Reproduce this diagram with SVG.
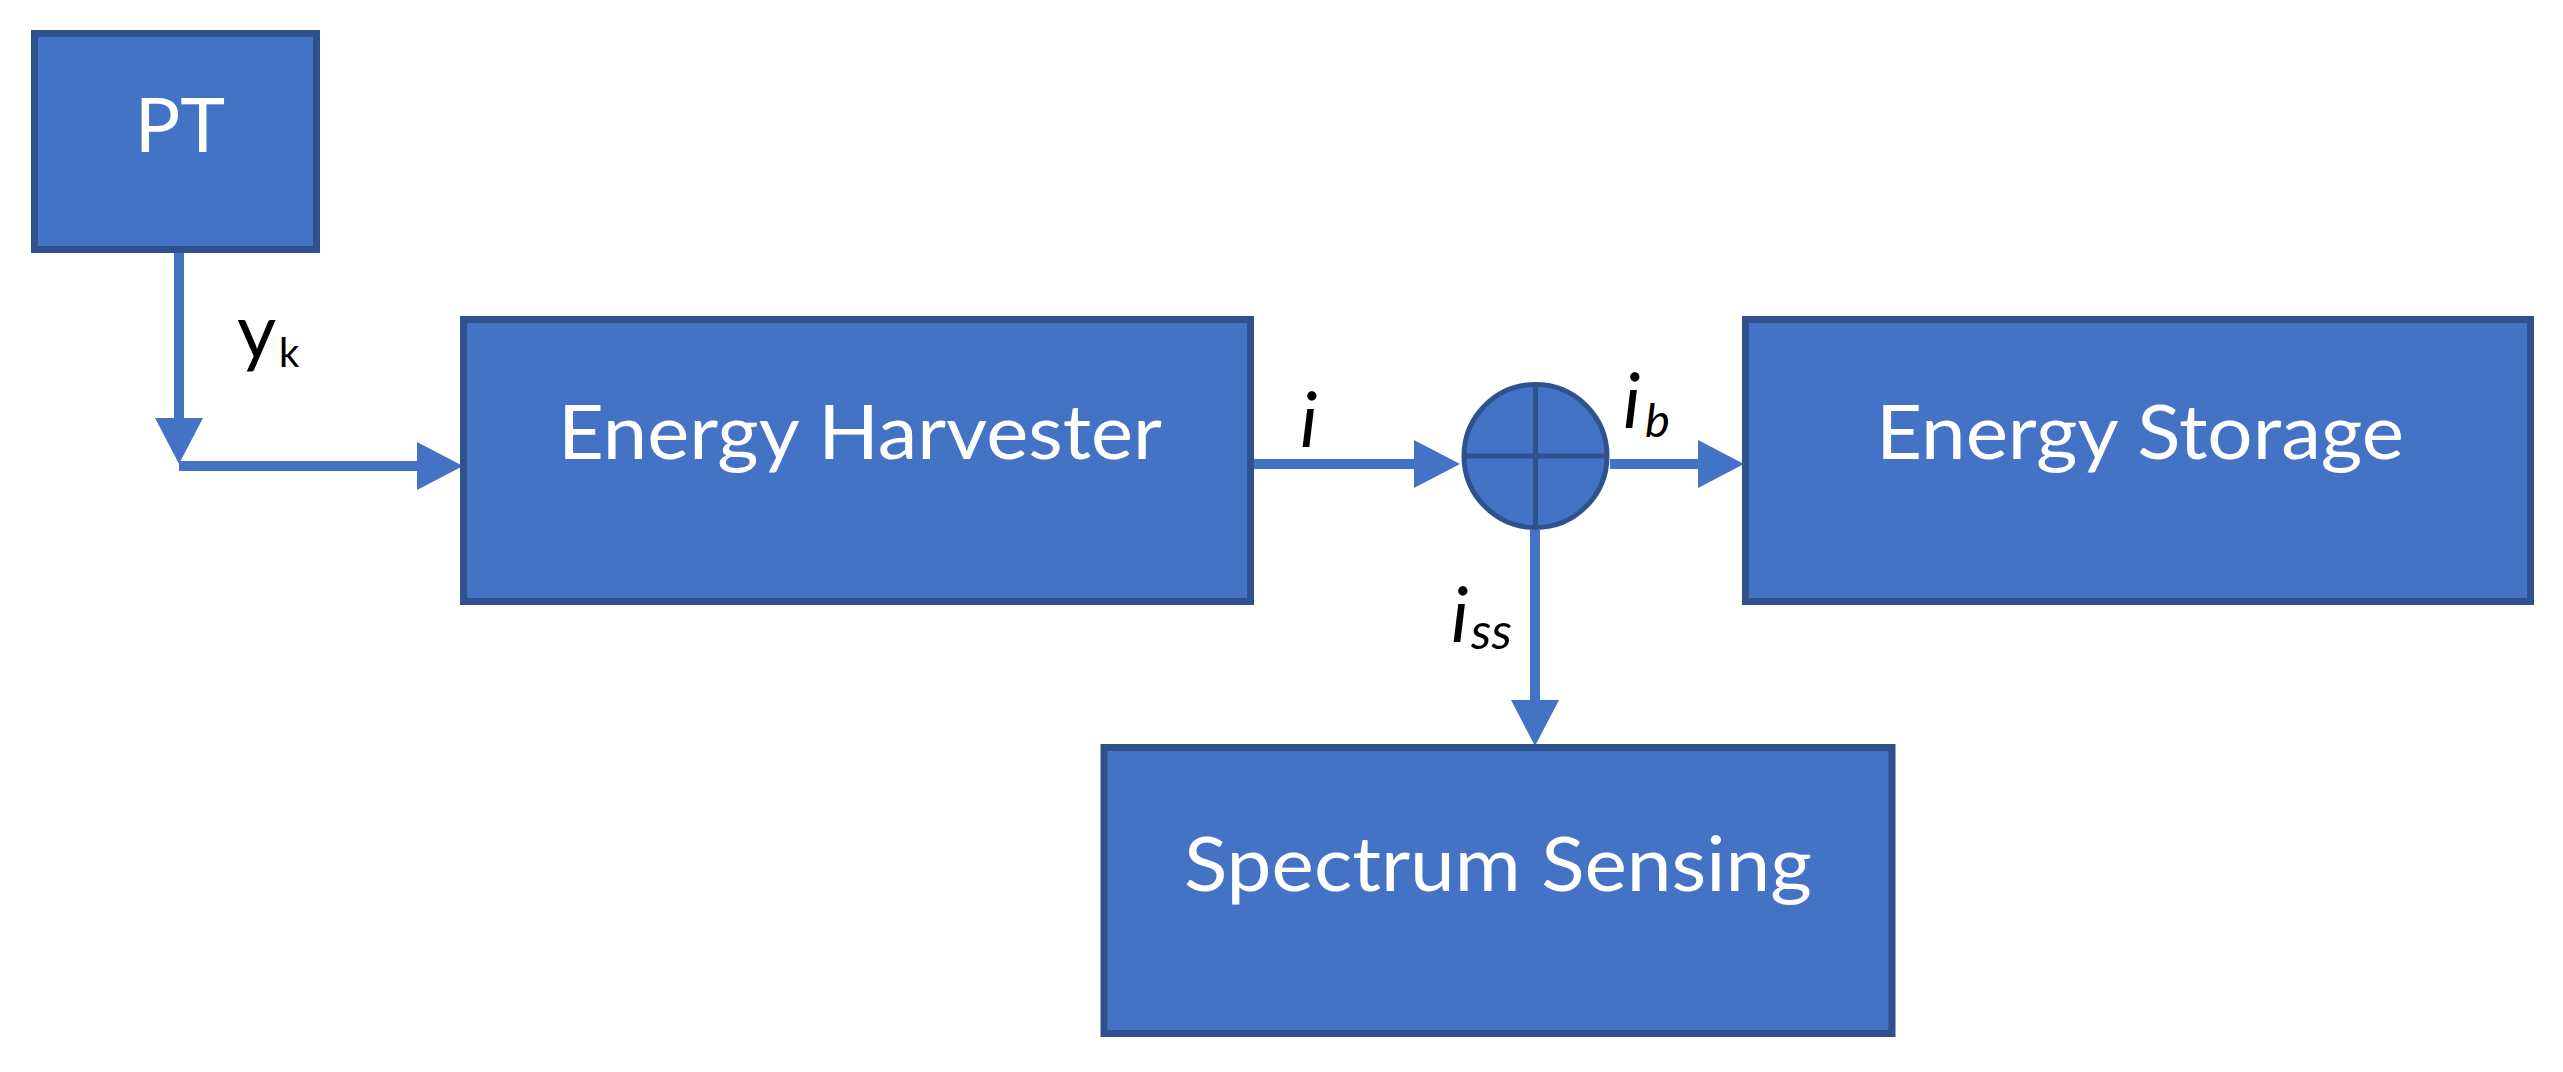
<svg xmlns="http://www.w3.org/2000/svg" width="2563" height="1072" viewBox="0 0 2563 1072">
<style>
.box{fill:#4472C4;stroke:#2F528F;stroke-width:7}
.lbl{fill:#FFFFFF;font-family:Lato,"Open Sans","Liberation Sans",sans-serif;font-size:76px;text-anchor:middle}
.conn{fill:none;stroke:#4472C4;stroke-width:10}
.math{fill:#000000;font-family:Lato,"Open Sans","Liberation Sans",sans-serif;font-style:italic}
.sym{fill:#000000;font-family:Lato,"Open Sans","Liberation Sans",sans-serif}
</style>
<defs>
<marker id="ah" viewBox="0 0 46 48" refX="0" refY="24" markerWidth="46" markerHeight="48" markerUnits="userSpaceOnUse" orient="auto">
<path d="M0,0 L46,24 L0,48 Z" fill="#4472C4"/>
</marker>
</defs>
<rect width="2563" height="1072" fill="#FFFFFF"/>
<g id="connectors">
<path class="conn" d="M179,253 V418" marker-end="url(#ah)"/>
<path class="conn" d="M179,466 H417" marker-end="url(#ah)"/>
<path class="conn" d="M1254,464 H1414" marker-end="url(#ah)"/>
<path class="conn" d="M1610,464 H1698" marker-end="url(#ah)"/>
<path class="conn" d="M1535,530 V700" marker-end="url(#ah)"/>
<text class="sym" x="237" y="358" font-size="76">y</text>
<text class="sym" x="279" y="367" font-size="40">k</text>
<text class="math" x="1300" y="447" font-size="76">i</text>
<text class="math" x="1623" y="428" font-size="76">i</text>
<text class="math" x="1645" y="437" font-size="47">b</text>
<text class="math" x="1451" y="642" font-size="76">i</text>
<text class="math" x="1471" y="649" font-size="51">ss</text>
</g>
<g id="pt">
<rect class="box" x="34.5" y="33.5" width="282" height="216"/>
<text class="lbl" x="180" y="152">PT</text>
</g>
<g id="energy-harvester">
<rect class="box" x="463.5" y="319.5" width="787" height="282"/>
<text class="lbl" x="860" y="459" textLength="604" lengthAdjust="spacingAndGlyphs">Energy Harvester</text>
</g>
<g id="sum">
<circle cx="1535.5" cy="456" r="71.5" fill="#4472C4" stroke="#2F528F" stroke-width="5"/>
<path d="M1535.5,384.5 V527.5 M1464,456 H1607" stroke="#2F528F" stroke-width="5"/>
</g>
<g id="energy-storage">
<rect class="box" x="1745.5" y="319.5" width="785" height="282"/>
<text class="lbl" x="2140" y="459" textLength="528" lengthAdjust="spacingAndGlyphs">Energy Storage</text>
</g>
<g id="spectrum-sensing">
<rect class="box" x="1104" y="747.5" width="788" height="286"/>
<text class="lbl" x="1498" y="891" textLength="628" lengthAdjust="spacingAndGlyphs">Spectrum Sensing</text>
</g>
</svg>
